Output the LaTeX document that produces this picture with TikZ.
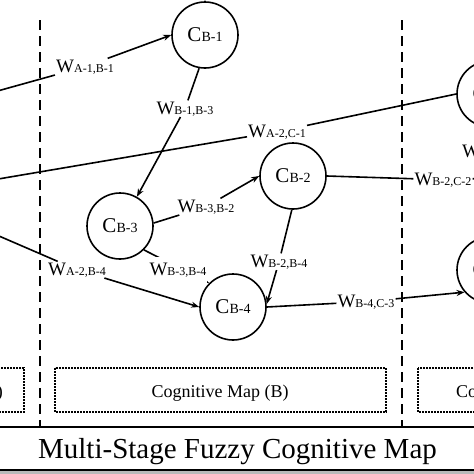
\documentclass[tikz,border=0pt]{standalone}
\usepackage{fontspec}
\setmainfont{Liberation Serif}
\usetikzlibrary{arrows.meta}
\newcommand{\Cn}[1]{{\fontsize{21}{21}\selectfont C}{\fontsize{14}{14}\selectfont #1}}
\newcommand{\Wn}[1]{{\fontsize{19}{19}\selectfont W}{\fontsize{12}{12}\selectfont #1}}
\begin{document}
\begin{tikzpicture}[x=1pt,y=-1pt,
  cnode/.style={draw, circle, line width=1.6pt, minimum size=66pt, inner sep=0pt},
  wl/.style={inner sep=1pt, anchor=base},
  conn/.style={line width=1.6pt},
  arr/.style={conn, -{Stealth[length=8pt,width=6pt]}},
  vdash/.style={line width=1.6pt, dash pattern=on 10pt off 6pt},
  dbox/.style={line width=1.3pt, dash pattern=on 1.6pt off 1.4pt},
  maptext/.style={font=\fontsize{18}{18}\selectfont, inner sep=0pt}
]
\useasboundingbox (0,0) rectangle (474,474);
\clip (0,0) rectangle (474,474);
\fill[white] (0,0) rectangle (474,474);

% stage separators
\draw[vdash] (40,20) -- (40,427);
\draw[vdash] (402,20) -- (402,427);

% concept nodes
\node[cnode] (b1) at (205,35) {\Cn{B-1}};
\node[cnode] (b2) at (293,176) {\Cn{B-2}};
\node[cnode] (b3) at (120,226) {\Cn{B-3}};
\node[cnode] (b4) at (233,307) {\Cn{B-4}};
\node[cnode] (c1) at (490,94) {\Cn{C-1}};
\node[cnode] (c3) at (490,270) {\Cn{C-3}};
\coordinate (a1) at (-60,107);
\coordinate (a2) at (-96,195);
\coordinate (c2) at (530,177);
\coordinate (topin) at (205,-20);

% weight labels
\node[wl] (l1) at (85,72) {\Wn{A-1,B-1}};
\node[wl] (l2) at (277,137) {\Wn{A-2,C-1}};
\node[wl] (l3) at (77,275) {\Wn{A-2,B-4}};
\node[wl] (l4) at (185,114) {\Wn{B-1,B-3}};
\node[wl] (l5) at (206,212) {\Wn{B-3,B-2}};
\node[wl] (l7) at (279,267) {\Wn{B-2,B-4}};
\node[wl] (l8) at (443,185) {\Wn{B-2,C-2}};
\node[wl] (l9) at (366,307) {\Wn{B-4,C-3}};
\node[wl,anchor=base west] (l10) at (461,157) {\Wn{C-1,C-2}};

% connectors
\draw[arr] (topin) -- (b1.north);
\draw[conn] (a1) -- (l1);
\draw[arr] (l1) -- (b1.west);
\draw[conn] (a2) -- (l2);
\draw[conn] (l2) -- (c1.west);
\draw[conn] (a2) -- (l3);
\draw[arr] (l3) -- (b4.west);
\draw[conn] (b1.-100) -- (l4);
\draw[arr] (l4) -- (b3.60);
\draw[conn] (b3.5) -- (l5);
\draw[arr] (l5) -- (b2.west);
\draw[arr] (b3.-45) -- (b4.135);
\node[wl, fill=white, inner xsep=1pt, inner ysep=6pt] (l6) at (178,275) {\Wn{B-3,B-4}};
\draw[conn] (b2.-92) -- (l7);
\draw[arr] (l7) -- (b4.5);
\draw[conn] (b2.east) -- (l8);
\draw[conn] (l8) -- (c2);
\draw[conn] (b4.east) -- (l9);
\draw[arr] (l9) -- (c3.221);

% cognitive map boxes
\draw[dbox] (-50,368) rectangle (24,412);
\draw[dbox] (55,368) rectangle (386,412);
\draw[dbox] (418,368) rectangle (580,412);
\node[maptext, anchor=base east] (mapa) at (3,397) {Cognitive Map (A)};
\node[maptext, anchor=base] (mapb) at (220,397) {Cognitive Map (B)};
\node[maptext, anchor=base west] (mapc) at (456,397) {Cognitive Map (C)};

% title band
\draw[line width=1.4pt] (0,427) -- (474,427);
\node[anchor=base, inner sep=0pt, font=\fontsize{29}{29}\selectfont] (title) at (237.5,458) {Multi-Stage Fuzzy Cognitive Map};
\fill[gray!55] (0,470) rectangle (474,474);
\draw[line width=1.2pt] (0,470) -- (474,470);
\end{tikzpicture}
\end{document}
